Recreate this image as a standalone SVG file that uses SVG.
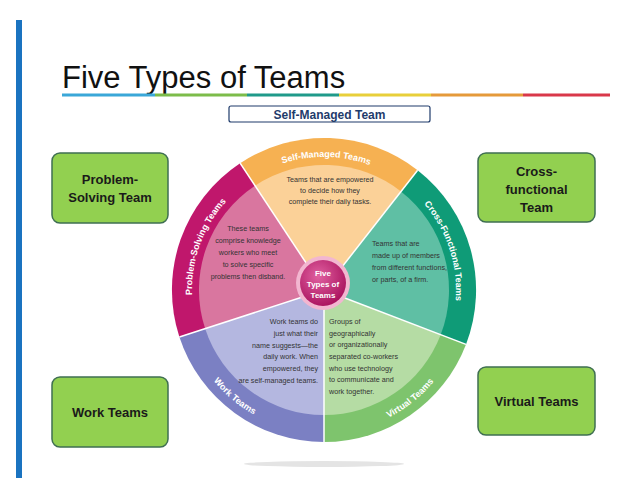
<svg xmlns="http://www.w3.org/2000/svg" width="638" height="478" viewBox="0 0 638 478">
<style>
.box{fill:#92d050;stroke:#3f6f52;stroke-width:1.5}
.bt{font-family:"Liberation Sans",Arial,sans-serif;font-weight:bold;font-size:13px;fill:#1a1a1a;text-anchor:middle}
.body{font-family:"Liberation Sans",Arial,sans-serif;font-size:7.2px;fill:#333}
.arc{font-family:"Liberation Sans",Arial,sans-serif;font-weight:bold;font-size:9px;fill:#fff}
.sep{stroke:#fff;stroke-width:1.5}
</style>
<defs>
<path id="pO" d="M274.1,166.7 A133,133 0 0 1 378.1,168.4"/>
<path id="pM" d="M196.5,324.2 A132,132 0 0 1 248.3,181.9"/>
<path id="pT" d="M412.3,191.9 A132,132 0 0 1 453.1,317.5"/>
<path id="pW" d="M206.9,372.1 A143,143 0 0 0 263.5,419.6"/>
<path id="pV" d="M377.6,422.6 A143,143 0 0 0 441.1,372.1"/>
<radialGradient id="cg" cx="0.4" cy="0.35" r="0.7"><stop offset="0" stop-color="#e060a0"/><stop offset="1" stop-color="#a8105c"/></radialGradient>
</defs>
<rect width="638" height="478" fill="#fff"/>
<rect x="16" y="20" width="6" height="458" fill="#1a73c0"/>
<text x="62" y="88" font-family="Liberation Sans,Arial,sans-serif" font-size="31" fill="#111">Five Types of Teams</text>
<g stroke-width="3">
<line x1="62" y1="95" x2="155" y2="95" stroke="#3aa7d8"/>
<line x1="155" y1="95" x2="247" y2="95" stroke="#7cbc4a"/>
<line x1="247" y1="95" x2="339" y2="95" stroke="#1f9a8a"/>
<line x1="339" y1="95" x2="431" y2="95" stroke="#e8cf3a"/>
<line x1="431" y1="95" x2="523" y2="95" stroke="#e59a3a"/>
<line x1="523" y1="95" x2="610" y2="95" stroke="#d9384a"/>
</g>
<g id="header"><rect x="229" y="106" width="201" height="16" rx="2" fill="#fff" stroke="#1f3b6b" stroke-width="1.2"/>
<text x="329.5" y="118.5" font-family="Liberation Sans,Arial,sans-serif" font-weight="bold" font-size="12" fill="#1f3b6b" text-anchor="middle">Self-Managed Team</text></g>
<ellipse cx="324" cy="464" rx="80" ry="3" fill="#e4e4e4"/>
<g id="wheel">
<path d="M324,290 L417.6,170.2 A152,152 0 0 0 240.1,163.2 Z" fill="#f6b152"/>
<path d="M324,290 L240.1,163.2 A152,152 0 0 0 179.4,337 Z" fill="#c0176c"/>
<path d="M324,290 L179.4,337 A152,152 0 0 0 324,442 Z" fill="#7b80c3"/>
<path d="M324,290 L324,442 A152,152 0 0 0 466,344.4 Z" fill="#7ec46d"/>
<path d="M324,290 L466,344.4 A152,152 0 0 0 417.6,170.2 Z" fill="#0f9b77"/>
<path d="M324,290 L401,191.5 A125,125 0 0 0 255,185.7 Z" fill="#fbd198"/>
<path d="M324,290 L255,185.7 A125,125 0 0 0 205.1,328.6 Z" fill="#d9769f"/>
<path d="M324,290 L205.1,328.6 A125,125 0 0 0 324,415 Z" fill="#b4b7e0"/>
<path d="M324,290 L324,415 A125,125 0 0 0 440.7,334.8 Z" fill="#b5dca4"/>
<path d="M324,290 L440.7,334.8 A125,125 0 0 0 401,191.5 Z" fill="#5fbfa4"/>
<line class="sep" x1="324" y1="290" x2="417.6" y2="170.2"/>
<line class="sep" x1="324" y1="290" x2="240.1" y2="163.2"/>
<line class="sep" x1="324" y1="290" x2="179.4" y2="337"/>
<line class="sep" x1="324" y1="290" x2="324" y2="442"/>
<line class="sep" x1="324" y1="290" x2="466" y2="344.4"/>
<text class="arc"><textPath href="#pO" startOffset="50%" text-anchor="middle">Self-Managed Teams</textPath></text>
<text class="arc"><textPath href="#pM" startOffset="50%" text-anchor="middle">Problem-Solving Teams</textPath></text>
<text class="arc"><textPath href="#pT" startOffset="50%" text-anchor="middle">Cross-Functional Teams</textPath></text>
<text class="arc"><textPath href="#pW" startOffset="50%" text-anchor="middle">Work Teams</textPath></text>
<text class="arc"><textPath href="#pV" startOffset="50%" text-anchor="middle">Virtual Teams</textPath></text>
<text class="body" text-anchor="middle"><tspan x="330" y="182">Teams that are empowered</tspan><tspan x="330" y="193">to decide how they</tspan><tspan x="330" y="204">complete their daily tasks.</tspan></text>
<text class="body" text-anchor="middle"><tspan x="248" y="231">These teams</tspan><tspan x="248" y="243">comprise knowledge</tspan><tspan x="248" y="255">workers who meet</tspan><tspan x="248" y="267">to solve specific</tspan><tspan x="248" y="279">problems then disband.</tspan></text>
<text class="body"><tspan x="372" y="246">Teams that are</tspan><tspan x="372" y="258">made up of members</tspan><tspan x="372" y="270">from different functions,</tspan><tspan x="372" y="282">or parts, of a firm.</tspan></text>
<text class="body" text-anchor="end"><tspan x="318" y="324">Work teams do</tspan><tspan x="318" y="336">just what their</tspan><tspan x="318" y="348">name suggests—the</tspan><tspan x="318" y="359">daily work. When</tspan><tspan x="318" y="371">empowered, they</tspan><tspan x="318" y="383">are self-managed teams.</tspan></text>
<text class="body"><tspan x="329" y="324">Groups of</tspan><tspan x="329" y="336">geographically</tspan><tspan x="329" y="347">or organizationally</tspan><tspan x="329" y="359">separated co-workers</tspan><tspan x="329" y="371">who use technology</tspan><tspan x="329" y="382">to communicate and</tspan><tspan x="329" y="394">work together.</tspan></text>
<circle cx="323" cy="283" r="27" fill="#f2b6d0"/>
<circle cx="323" cy="283" r="23" fill="url(#cg)"/>
<text font-family="Liberation Sans,Arial,sans-serif" font-weight="bold" font-size="8" fill="#fff" text-anchor="middle"><tspan x="323" y="276">Five</tspan><tspan x="323" y="287">Types of</tspan><tspan x="323" y="298">Teams</tspan></text>
</g>
<g id="problem"><rect class="box" x="52" y="153" width="116" height="70" rx="8"/><text class="bt"><tspan x="110" y="184">Problem-</tspan><tspan x="110" y="202">Solving Team</tspan></text></g>
<g id="cross"><rect class="box" x="478" y="153" width="117" height="69" rx="8"/><text class="bt"><tspan x="536.5" y="176">Cross-</tspan><tspan x="536.5" y="194">functional</tspan><tspan x="536.5" y="212">Team</tspan></text></g>
<g id="work"><rect class="box" x="52" y="377" width="116" height="70" rx="8"/><text class="bt" x="110" y="417">Work Teams</text></g>
<g id="virtual"><rect class="box" x="478" y="367" width="117" height="68" rx="8"/><text class="bt" x="536.5" y="406">Virtual Teams</text></g>
</svg>
